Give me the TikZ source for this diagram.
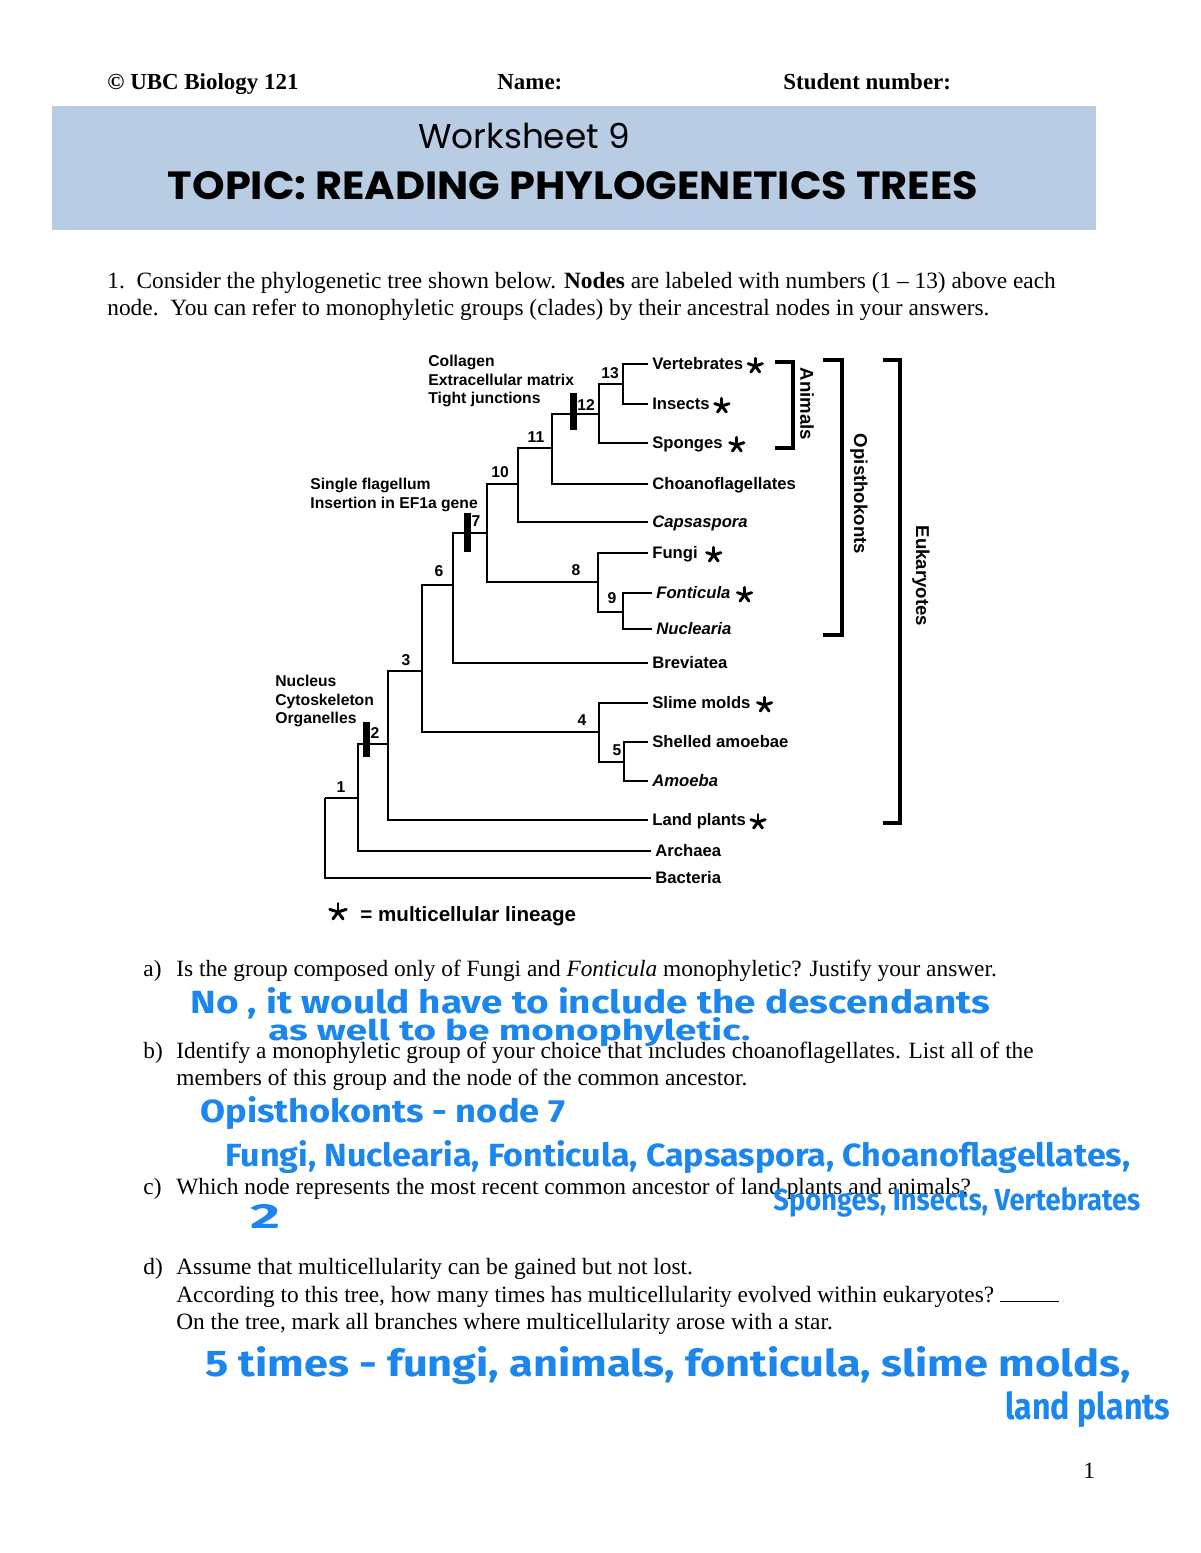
\documentclass[tikz,border=0pt]{standalone}
\usepackage{fontspec}
\usepackage{graphicx}
\setmainfont{Liberation Serif}
\newfontfamily\arialf{Liberation Sans}
\newfontfamily\gothicf{Poppins}
\newfontfamily\handf{Fira Sans}
\usetikzlibrary{positioning}
\definecolor{bandColor}{HTML}{B8CCE4}
\definecolor{inkColor}{HTML}{1A86EE}
\newdimen\pxu \pxu=0.51pt
\newcommand{\hw}[3]{\resizebox{#1\pxu}{#2\pxu}{#3}}

\begin{document}
\begin{tikzpicture}[
    x=0.51pt, y=-0.51pt,
    every node/.style={inner sep=0pt},
    branch/.style={line width=0.7pt},
    leaf/.style={
        anchor=west,
        inner xsep=2pt,
        text height=6pt,
        text depth=0pt,
        font=\arialf\bfseries\fontsize{8.5}{10}\selectfont,
    },
    nodenum/.style={font=\arialf\bfseries\fontsize{8}{9}\selectfont},
    trait/.style={
        anchor=north west,
        align=left,
        font=\arialf\bfseries\fontsize{8}{9.4}\selectfont,
    },
    clade/.style={rotate=-90, font=\arialf\bfseries\fontsize{9.5}{11}\selectfont},
    brack/.style={line width=1.6pt},
    bar/.style={fill=black},
    body/.style={anchor=base west, font=\fontsize{11.9}{14}\selectfont},
    hand/.style={anchor=west, text=inkColor, font=\handf\bfseries},
    mstar/.pic={
        \foreach \a in {270,342,54,126,198}
            \draw[line width=1.5pt, line cap=round] (0,0) -- (\a:7.5);
    },
]

\fill[white] (0,0) rectangle (1200,1553);
\useasboundingbox (0,0) rectangle (1200,1553);

% header
\node[anchor=base west, font=\bfseries\fontsize{11.7}{14}\selectfont] (ubc) at (107,90) {\textcopyright\ UBC Biology 121};
\node[anchor=base west, font=\bfseries\fontsize{11.7}{14}\selectfont] (name) at (497,90) {Name:};
\node[anchor=base west, font=\bfseries\fontsize{11.7}{14}\selectfont] (stnum) at (783,90) {Student number:};

\fill[bandColor] (52,106) rectangle (1096,230);
\node[font=\gothicf\fontsize{17.5}{19}\selectfont] (wsheet) at (524,136) {Worksheet 9};
\node (topic) at (573,186) {\hw{810}{28}{\gothicf\bfseries TOPIC: READING PHYLOGENETICS TREES}};

\node[body] (q1a) at (107,288) {1.\ \ Consider the phylogenetic tree shown below. \textbf{Nodes} are labeled with numbers (1 -- 13) above each};
\node[body] (q1b) at (107,315) {node.\ \ You can refer to monophyletic groups (clades) by their ancestral nodes in your answers.};

% tree
\coordinate (root) at (325,798);
\coordinate (n1) at (358,798);
\coordinate (n2) at (388,744);
\coordinate (n3) at (422,671);
\coordinate (n4) at (599,732);
\coordinate (n5) at (624,762);
\coordinate (n6) at (453,585);
\coordinate (n7) at (487,533);
\coordinate (n8) at (598,582);
\coordinate (n9) at (623,612);
\coordinate (n10) at (518,484);
\coordinate (n11) at (552,448);
\coordinate (n12) at (599,414);
\coordinate (n13) at (623,384);

\node[leaf] (vert) at (648,364) {Vertebrates};
\node[leaf] (insect) at (648,404) {Insects};
\node[leaf] (sponge) at (648,443) {Sponges};
\node[leaf] (choano) at (648,484) {Choanoflagellates};
\node[leaf] (caps) at (648,522) {\textit{Capsaspora}};
\node[leaf] (fungi) at (648,553) {Fungi};
\node[leaf] (fonti) at (652,593) {\textit{Fonticula}};
\node[leaf] (nucle) at (652,629) {\textit{Nuclearia}};
\node[leaf] (brevi) at (648,663) {Breviatea};
\node[leaf] (slime) at (648,703) {Slime molds};
\node[leaf] (shell) at (648,742) {Shelled amoebae};
\node[leaf] (amoeba) at (648,781) {\textit{Amoeba}};
\node[leaf] (land) at (648,820) {Land plants};
\node[leaf] (archaea) at (651,851) {Archaea};
\node[leaf] (bact) at (651,878) {Bacteria};

\draw[branch] (root) |- (n1);
\draw[branch] (root) |- (bact.west);
\draw[branch] (n1) |- (n2);
\draw[branch] (n1) |- (archaea.west);
\draw[branch] (n2) |- (n3);
\draw[branch] (n2) |- (land.west);
\draw[branch] (n3) |- (n6);
\draw[branch] (n3) |- (n4);
\draw[branch] (n4) |- (slime.west);
\draw[branch] (n4) |- (n5);
\draw[branch] (n5) |- (shell.west);
\draw[branch] (n5) |- (amoeba.west);
\draw[branch] (n6) |- (n7);
\draw[branch] (n6) |- (brevi.west);
\draw[branch] (n7) |- (n10);
\draw[branch] (n7) |- (n8);
\draw[branch] (n8) |- (fungi.west);
\draw[branch] (n8) |- (n9);
\draw[branch] (n9) |- (fonti.west);
\draw[branch] (n9) |- (nucle.west);
\draw[branch] (n10) |- (n11);
\draw[branch] (n10) |- (caps.west);
\draw[branch] (n11) |- (n12);
\draw[branch] (n11) |- (choano.west);
\draw[branch] (n12) |- (n13);
\draw[branch] (n12) |- (sponge.west);
\draw[branch] (n13) |- (vert.west);
\draw[branch] (n13) |- (insect.west);

% node numbers
\foreach \n/\x/\y in {1/341/787, 2/375/733, 3/406/660, 4/582/720, 5/617/750,
    6/439/571, 7/476/521, 8/576/570, 9/612/598, 10/500/472, 11/536/437,
    12/586/405, 13/610/373}
    \node[nodenum] (num\n) at (\x,\y) {\n};

% traits
\fill[bar] (570,393) rectangle (577,430);
\fill[bar] (464,513) rectangle (471,552);
\fill[bar] (363,722) rectangle (370,757);
\node[trait] (trcoll) at (428,355) {Collagen\\Extracellular matrix\\Tight junctions};
\node[trait] (trflag) at (310,478) {Single flagellum\\Insertion in EF1a gene};
\node[trait] (trnucl) at (275,675) {Nucleus\\Cytoskeleton\\Organelles};

% multicellular stars
\pic at ([xshift=4pt, yshift=-1pt]vert.east) {mstar};
\pic at ([xshift=4pt, yshift=-1pt]insect.east) {mstar};
\pic at ([xshift=5pt, yshift=-1pt]sponge.east) {mstar};
\pic at ([xshift=6pt, yshift=-1pt]fungi.east) {mstar};
\pic at ([xshift=5pt, yshift=-1pt]fonti.east) {mstar};
\pic at ([xshift=5pt, yshift=-1pt]slime.east) {mstar};
\pic at ([xshift=4pt, yshift=-1pt]land.east) {mstar};

% clades
\draw[brack] (775,362) -- (793,362) -- (793,448) -- (775,448);
\draw[brack] (823,360) -- (842,360) -- (842,635) -- (823,635);
\draw[brack] (883,360) -- (900,360) -- (900,823) -- (883,823);
\node[clade] (animals) at (807,404) {Animals};
\node[clade] (opist) at (859,494) {Opisthokonts};
\node[clade] (eukar) at (921,576) {Eukaryotes};

% legend
\pic[scale=1.15] at (338,912) {mstar};
\node[anchor=west, font=\arialf\bfseries\fontsize{10.5}{12}\selectfont] (legend) at (360,916) {= multicellular lineage};

% questions
\node[body] (qa0) at (143,976) {a)};
\node[body] (qa1) at (176,976) {Is the group composed only of Fungi and \textit{Fonticula} monophyletic? Justify your answer.};
\node[body] (qb0) at (143,1058) {b)};
\node[body] (qb1) at (176,1058) {Identify a monophyletic group of your choice that includes choanoflagellates. List all of the};
\node[body] (qb2) at (176,1085) {members of this group and the node of the common ancestor.};
\node[body] (qc0) at (143,1194) {c)};
\node[body] (qc1) at (176,1194) {Which node represents the most recent common ancestor of land plants and animals?};
\node[body] (qd0) at (143,1274) {d)};
\node[body] (qd1) at (176,1274) {Assume that multicellularity can be gained but not lost.};
\node[body] (qd2) at (176,1302) {According to this tree, how many times has multicellularity evolved within eukaryotes?\ \rule{30pt}{0.5pt}};
\node[body] (qd3) at (176,1329) {On the tree, mark all branches where multicellularity arose with a star.};
\node[body] (pageno) at (1083,1478) {1};

% handwritten answers
\node[hand] (ans1) at (190,1003) {\hw{800}{26}{No , it would have to include the descendants}};
\node[hand] (ans2) at (268,1032) {\hw{482}{23}{as well to be monophyletic.}};
\node[hand] (ans3) at (200,1113) {\hw{365}{26}{Opisthokonts - node 7}};
\node[hand] (ans4) at (225,1157) {\hw{905}{26}{Fungi, Nuclearia, Fonticula, Capsaspora, Choanoflagellates,}};
\node[hand] (ans5) at (773,1202) {\hw{367}{23}{Sponges, Insects, Vertebrates}};
\node[hand] (ans6) at (250,1216) {\hw{30}{24}{2}};
\node[hand] (ans7) at (205,1366) {\hw{925}{30}{5 times - fungi, animals, fonticula, slime molds,}};
\node[hand] (ans8) at (1005,1410) {\hw{165}{28}{land plants}};

\end{tikzpicture}
\end{document}
